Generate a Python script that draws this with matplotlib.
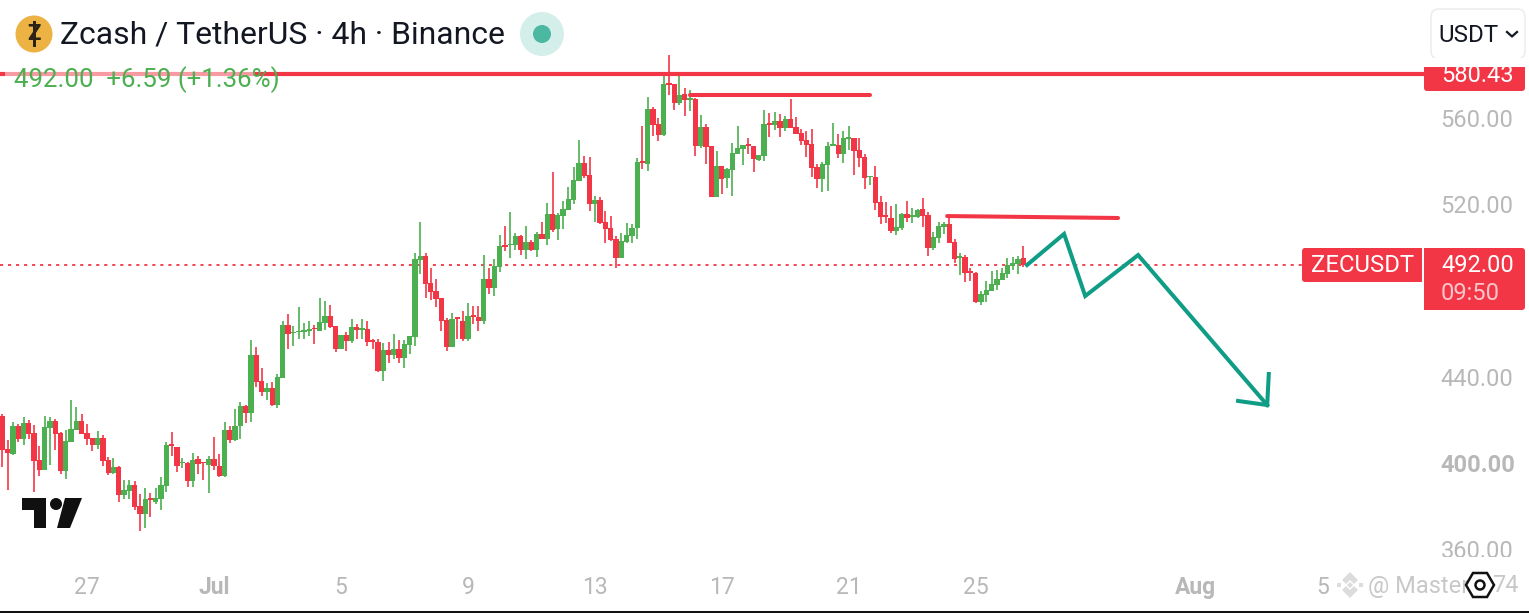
import numpy as np
import matplotlib
matplotlib.use("Agg")
import matplotlib.pyplot as plt
from matplotlib.patches import FancyBboxPatch, Rectangle, Circle, Polygon
from matplotlib.lines import Line2D
from matplotlib.transforms import Affine2D

plt.rcParams['font.family'] = ['Roboto', 'DejaVu Sans']

opens = [413.7,421.7,406.4,404.1,417.2,411.2,418.3,413.8,401.2,396.7,
416.3,419.4,414.0,396.2,409.8,415.4,419.4,413.8,411.5,408.3,
411.5,401.2,395.1,398.1,385.1,387.1,389.7,380.0,376.3,383.5,
381.8,383.2,389.3,408.7,407.3,399.8,400.1,391.6,401.6,400.2,
399.0,401.8,398.5,393.9,415.2,410.4,417.1,426.5,423.1,450.0,
438.0,432.9,434.7,426.8,439.5,
464.0,460.1,460.6,460.7,461.2,462.7,461.2,464.9,468.1,463.5,
452.8,459.3,456.5,463.0,461.8,462.1,457.0,456.1,442.6,452.4,
450.0,452.8,448.6,454.7,458.6,494.1,496.0,483.4,479.7,476.5,
466.3,453.8,467.5,465.8,457.5,468.4,467.7,465.8,485.3,481.1,
491.0,501.1,500.9,501.1,505.4,498.8,502.5,498.8,
506.2,503.9,515.5,508.5,514.7,517.5,522.0,530.9,539.1,533.6,
520.1,522.0,511.8,509.0,503.9,495.0,502.5,505.3,509.0,540.1,
538.7,564.2,557.2,552.1,576.1,575.8,567.0,571.2,568.4,568.8,
547.0,555.8,547.0,523.3,537.7,532.0,535.9,543.3,545.6,547.8,
547.0,540.5,542.4,
557.5,556.9,558.6,555.4,559.5,555.8,553.0,549.8,547.9,537.3,
531.7,538.2,547.0,547.5,543.3,550.3,550.7,545.2,541.9,532.5,
532.6,521.0,515.0,513.6,507.6,509.0,515.5,514.1,514.1,517.8,
515.0,499.7,504.3,509.4,510.8,502.5,495.0,495.5,489.0,488.1,
474.6,477.9,479.7,482.5,484.8,487.6,491.3,492.4,495.0]

closes = [421.7,406.0,404.4,417.1,411.2,418.5,413.5,400.8,396.7,416.6,
419.4,413.5,396.2,410.0,415.7,419.4,413.5,411.2,408.4,411.5,
400.8,395.3,398.1,385.1,387.4,389.7,379.5,376.3,383.2,382.9,
383.7,389.7,408.3,408.0,398.5,400.4,391.6,401.3,399.5,399.8,
401.8,398.5,393.9,415.2,410.6,417.1,426.4,423.1,450.0,437.5,
432.9,434.9,426.8,439.8,463.9,
459.8,460.7,461.2,461.5,462.0,462.0,465.3,468.1,462.9,452.8,
459.3,456.5,463.0,461.8,462.6,456.1,456.1,442.6,452.4,450.0,
452.8,448.6,455.1,458.9,494.6,496.0,483.0,479.3,476.0,465.8,
453.8,466.7,466.6,457.5,468.1,467.8,465.8,485.3,481.1,491.3,
500.6,500.3,501.5,505.3,498.8,502.5,498.8,506.2,
503.9,515.5,508.1,515.0,517.8,522.4,531.2,539.1,533.1,520.1,
522.0,511.3,508.5,503.4,495.0,502.9,505.7,509.0,539.6,539.3,
564.2,556.8,552.1,575.8,575.5,567.0,570.7,568.4,569.3,547.0,
555.8,546.6,523.3,537.7,531.7,536.3,543.8,546.1,547.5,547.0,
541.0,542.8,557.2,
556.9,558.6,555.4,559.5,555.4,552.6,549.3,547.5,536.8,531.7,
538.7,547.0,547.9,543.3,550.7,551.2,544.7,541.4,532.2,533.1,
520.6,514.1,514.1,507.6,509.4,515.5,513.6,515.0,517.3,514.5,
499.7,504.8,509.9,510.8,502.0,494.6,496.0,488.1,488.1,474.6,
478.3,480.2,483.0,485.3,488.1,491.8,492.7,494.6,492.0]

highs = [421.7,422.7,410.6,418.9,418.0,421.3,419.9,417.6,407.8,421.7,
421.3,420.3,414.3,415.2,429.2,425.9,422.7,418.0,411.5,414.8,
412.9,402.7,402.2,398.5,392.0,392.0,391.6,385.5,388.3,386.0,
388.3,393.4,409.7,414.3,407.3,402.2,400.4,404.6,403.2,400.2,
403.2,412.0,404.1,418.9,417.1,425.0,428.2,426.8,457.0,453.7,
444.0,437.0,437.5,441.2,465.8,
469.1,463.5,472.3,464.7,465.8,464.0,476.5,475.1,473.2,463.5,
459.3,460.7,466.7,464.4,466.7,465.8,457.5,457.5,455.6,456.1,
459.8,457.0,457.0,458.9,497.4,511.8,497.4,490.4,485.3,476.5,
467.2,469.5,467.7,470.5,474.2,472.8,472.8,496.4,490.4,494.6,
505.7,509.9,516.4,506.6,505.7,509.9,503.4,507.1,
511.8,520.6,534.9,515.9,521.5,528.0,537.3,549.8,542.4,541.9,
523.8,523.3,516.9,514.5,505.3,506.6,511.3,510.8,541.4,556.3,
569.7,565.1,560.0,581.4,589.2,575.8,581.4,573.9,573.0,569.3,
561.4,557.2,547.0,544.7,537.7,536.8,548.4,556.3,547.5,550.7,
547.0,542.8,563.7,
562.3,562.8,561.9,560.9,568.8,560.5,554.9,554.0,554.9,538.7,
539.6,548.9,557.7,552.6,554.0,556.3,550.7,550.7,543.3,533.1,
537.7,523.8,521.0,519.2,520.1,515.9,521.5,518.2,517.8,522.9,
516.4,507.1,511.8,511.8,514.1,503.9,497.4,496.4,490.4,488.6,
479.7,484.4,489.0,489.5,490.4,495.0,495.5,496.0,500.6]

lows = [412.1,398.2,387.4,403.8,409.7,408.4,411.2,386.6,394.1,396.7,
399.0,406.0,394.8,392.5,409.8,415.4,413.2,408.3,405.5,406.4,
398.5,394.4,394.8,381.8,383.2,383.2,378.1,368.4,369.8,374.9,
380.9,378.1,386.5,403.2,395.7,397.6,388.8,388.8,394.8,392.0,
386.0,396.7,393.6,393.6,409.2,410.1,411.1,418.5,418.9,435.2,
431.0,429.2,426.4,425.4,439.5,
452.8,454.2,457.5,457.5,458.9,455.1,461.2,461.6,462.6,451.4,
452.8,451.9,455.6,457.5,457.5,454.2,452.8,442.2,438.0,446.3,
448.2,446.3,444.0,450.5,454.2,487.6,476.5,475.6,472.3,461.2,
451.9,453.8,457.5,456.5,456.5,464.4,461.2,464.4,478.3,477.4,
488.6,498.3,495.0,498.8,496.4,494.6,498.3,495.5,
503.9,501.1,507.1,503.4,508.5,517.3,520.1,530.9,532.2,516.9,
511.8,510.8,502.0,502.9,490.4,495.0,502.0,502.0,503.9,536.3,
535.4,551.7,549.3,551.7,570.7,563.7,566.0,560.9,563.3,542.4,
546.1,538.7,523.3,523.3,524.7,527.5,523.8,543.3,538.2,543.3,
535.0,540.1,540.1,
551.3,554.4,551.2,554.0,555.2,552.6,547.5,541.9,532.6,527.5,
525.7,526.1,547.0,541.4,539.1,545.2,533.6,537.3,527.1,528.9,
517.3,510.8,511.3,506.6,505.7,508.0,511.7,511.3,513.6,509.4,
496.0,498.8,502.0,506.2,502.0,492.7,487.1,483.9,484.4,474.2,
473.2,474.6,479.7,480.2,484.8,485.8,489.5,487.6,490.9]

price_ticks = [560, 520, 440, 400, 360]
price_labels = ['560.00', '520.00', '440.00', '400.00', '360.00']
date_ticks = [0, 24, 48, 72, 96, 120, 144, 168, 209.6, 233.6]
date_labels = ['27', 'Jul', '5', '9', '13', '17', '21', '25', 'Aug', '5']
first_candle = -17
resistance = 580.43
last_price = 492.0
top_line_x = [114.0, 148.0]
top_line_y = [570.7, 570.7]
mid_line_x = [162.6, 194.9]
mid_line_y = [514.5, 513.6]
path_x = [177.7, 184.7, 188.7, 198.7, 223.1]
path_y = [491.8, 506.2, 477.4, 496.4, 426.8]
head_x = [217.6, 223.1, 223.4]
head_y = [428.7, 426.8, 441.2]

RED = '#f23645'
GREEN = '#4caf50'
TEAL = '#0f9d85'
GRAY = '#b8b8b8'
W, H = 1529, 613

fig = plt.figure(figsize=(W / 100, H / 100), dpi=100, facecolor='white')
ax = fig.add_axes([0, (H - 571) / H, 1424 / W, 571 / H])
px = Affine2D().scale(1 / W, -1 / H).translate(0, 1) + fig.transFigure

o, c, hi, lo = map(np.array, (opens, closes, highs, lows))
xs = np.arange(len(o)) + first_candle
colors = np.where(c >= o, GREEN, RED)
ax.vlines(xs, lo, hi, colors=colors, linewidth=1.4, alpha=0.85, zorder=3)
ax.bar(xs, np.abs(c - o), bottom=np.minimum(o, c), width=1.0, color=colors, linewidth=0, zorder=4)

ax.axhline(resistance, color=RED, lw=3, zorder=5, solid_capstyle='butt')
ax.axhline(last_price, color=RED, lw=1.3, zorder=2, dashes=(1.7, 2.74))
ax.plot(top_line_x, top_line_y, color=RED, lw=2.9, zorder=5, solid_capstyle='round')
ax.plot(mid_line_x, mid_line_y, color=RED, lw=2.9, zorder=5, solid_capstyle='round')
ax.plot(path_x, path_y, color=TEAL, lw=2.9, zorder=6, solid_joinstyle='miter')
ax.plot(head_x, head_y, color=TEAL, lw=2.9, zorder=6, solid_joinstyle='miter')

ax.set_xlim(-87 / 5.29, (1424 - 87) / 5.29)
ax.set_ylim(560 - (571 - 118) / 2.155, 560 + 118 / 2.155)
ax.set_xticks(date_ticks, date_labels)
ax.yaxis.tick_right()
ax.set_yticks(price_ticks, price_labels)
ax.tick_params(axis='both', length=0, labelcolor=GRAY)
ax.tick_params(axis='y', labelsize=17, pad=12)
ax.tick_params(axis='x', labelsize=16.5, pad=3.5)
for s in ax.spines.values():
    s.set_visible(False)
for t in ax.get_xticklabels():
    if t.get_text() in ('Jul', 'Aug'):
        t.set_fontweight('bold')
for t in ax.get_yticklabels():
    if t.get_text() == '400.00':
        t.set_fontweight('bold')


def add(p, z=6):
    p.set_transform(px)
    p.set_zorder(z)
    fig.add_artist(p)
    return p


def text(x, y, s, z=8, **kw):
    kw.setdefault('va', 'center')
    kw.setdefault('transform', px)
    fig.text(x, y, s, zorder=z, **kw)


def tag(x0, y0, x1, y1, fc=RED, ec='none', lw=0, r=4, z=6):
    add(FancyBboxPatch((x0 + r, y0 + r), x1 - x0 - 2 * r, y1 - y0 - 2 * r,
                       boxstyle=f'round,pad={r},rounding_size={r}', fc=fc, ec=ec, lw=lw), z)


# cuts at the edges of the price scale
add(Rectangle((1428, 557), 101, 20, fc='white', ec='none'), 5)

# header
add(Circle((34, 34), 18.5, fc='#ecb244', ec='none'))
text(34, 34, 'Z', color='#2b2416', fontsize=16, fontweight='bold', ha='center')
add(Rectangle((32.5, 21), 3, 26, fc='#2b2416', ec='none'), 7)
text(60.5, 35, 'Zcash / TetherUS · 4h · Binance', color='#131722', fontsize=22.95)
add(Circle((542, 34), 22, fc='#d4efe9', ec='none'))
add(Circle((542, 34), 9, fc='#4cb8a2', ec='none'))
add(Rectangle((5, 66), 250, 16, fc='white', alpha=0.5, ec='none'), 6)
text(14, 80, '492.00  +6.59 (+1.36%)', color=GREEN, fontsize=18.6)

# logo
add(Polygon([(22, 498), (46, 498), (46, 528), (34, 528), (34, 510), (22, 510)], fc='#101010', ec='none'))
add(Circle((56, 504), 6, fc='#101010', ec='none'))
add(Polygon([(65, 498), (82, 498), (70, 528), (57, 528)], fc='#101010', ec='none'))

# USDT button
add(Rectangle((1424, 58), 105, 9, fc='white', ec='none'), 6)
tag(1431, 9, 1525, 59, fc='white', ec='#ededed', lw=1.2, r=8, z=7)
text(1438, 35, 'USDT', color='#131722', fontsize=17.4)
add(Line2D([1507, 1512, 1517], [32, 36.5, 32], color='#131722', lw=1.6), 8)

# price tags
tag(1424, 67, 1525, 91, r=3)
add(Rectangle((1424, 67), 101, 8, fc=RED, ec='none'), 6)
text(1514, 75, '580.43', color='white', fontsize=17, ha='right')
add(Rectangle((1424, 58), 105, 9, fc='white', ec='none'), 9)
tag(1424, 248, 1525, 310, r=3)
add(Rectangle((1424, 248), 10, 62, fc=RED, ec='none'), 6)
text(1514, 265, '492.00', color='white', fontsize=17, ha='right')
text(1441, 293, '09:50', color='#fbc6cb', fontsize=17)
tag(1302, 248, 1422, 282, r=3)
add(Rectangle((1412, 248), 10, 34, fc=RED, ec='none'), 6)
text(1362.5, 265, 'ZECUSDT', color='white', fontsize=17.2, ha='center')

# watermark and bottom edge
add(Rectangle((1350 - 13, 585 - 2), 4, 4, fc='#dcdcdc', ec='none'))
add(Polygon([(1350, 572), (1358, 580), (1354, 584), (1350, 580), (1346, 584), (1342, 580)], fc='#dcdcdc', ec='none'))
add(Polygon([(1350, 598), (1358, 590), (1354, 586), (1350, 590), (1346, 586), (1342, 590)], fc='#dcdcdc', ec='none'))
add(Polygon([(1350, 582), (1353, 585), (1350, 588), (1347, 585)], fc='#dcdcdc', ec='none'))
add(Rectangle((1359, 583), 4, 4, fc='#dcdcdc', ec='none'))
text(1368, 586, '@ Master', color='#c8c8c8', fontsize=17)
text(1492, 586, '74', color='#c8c8c8', fontsize=17)
add(Polygon([(1466, 585), (1473, 573), (1487, 573), (1494, 585), (1487, 597), (1473, 597)],
            fc='none', ec='#111111', lw=1.8), 9)
add(Circle((1480, 585), 4.5, fc='none', ec='#111111', lw=1.8), 9)
add(Rectangle((0, 611), W, 2, fc='#111111', ec='none'), 9)

fig.savefig('out.png', dpi=100, facecolor='white')
